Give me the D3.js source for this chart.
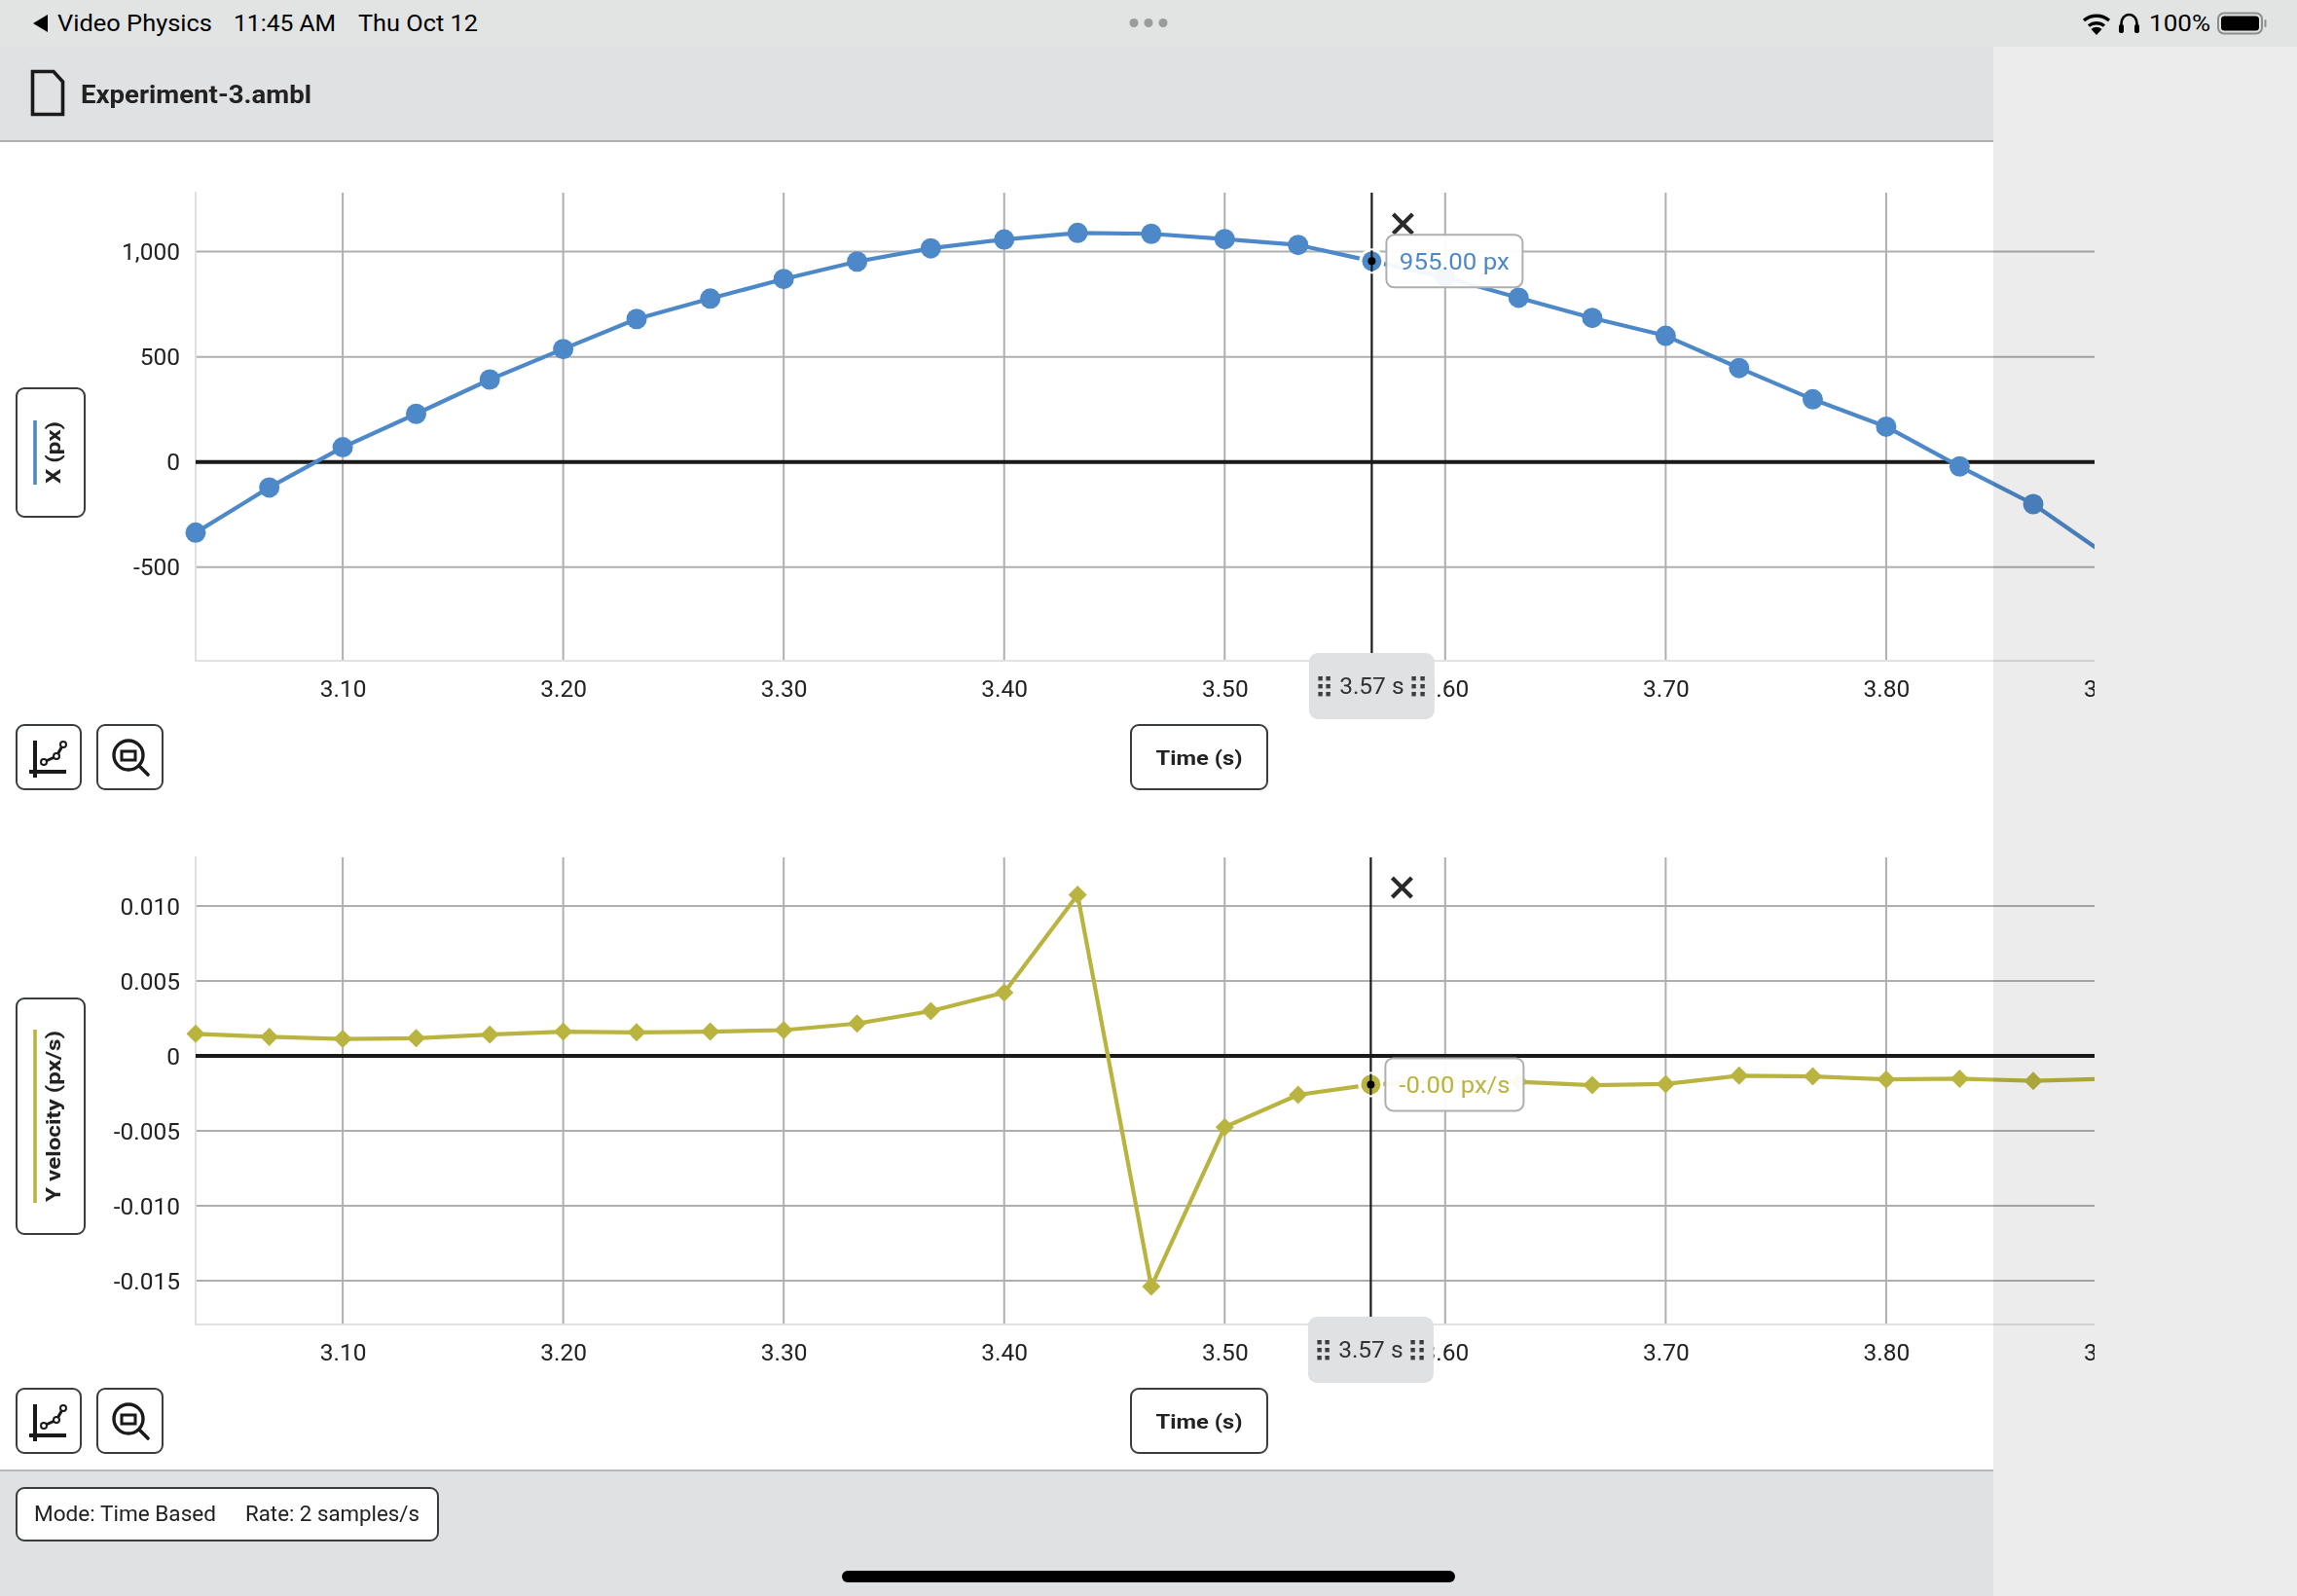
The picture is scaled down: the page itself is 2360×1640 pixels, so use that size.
<!DOCTYPE html>
<html>
<head>
<meta charset="utf-8">
<script src="https://cdn.jsdelivr.net/npm/d3@7"></script>
<style>
  html, body { margin: 0; padding: 0; background: #fff; }
  svg { display: block; }
  text { font-family: Roboto, sans-serif; fill: #222; }
</style>
</head>
<body>
<svg id="page" width="2360" height="1640"></svg>
<script>
// sample times (s), 30 samples/s
var TIMES = [3.0333, 3.0667, 3.1, 3.1333, 3.1667, 3.2, 3.2333, 3.2667, 3.3, 3.3333, 3.3667, 3.4, 3.4333,
             3.4667, 3.5, 3.5333, 3.5667, 3.6, 3.6333, 3.6667, 3.7, 3.7333, 3.7667, 3.8, 3.8333, 3.8667, 3.9];
var X_PX = [-336, -121, 70, 229, 392, 537, 680, 777, 870, 953, 1016, 1058, 1089,
            1085, 1060, 1032, 955, 878, 781, 685, 600, 447, 298, 168, -21, -200, -443];
var Y_VEL = [0.00147, 0.00127, 0.00113, 0.00118, 0.00142, 0.00162, 0.00157, 0.00162, 0.00172, 0.00216, 0.00299, 0.00422, 0.01074,
             -0.01539, -0.00475, -0.0026, -0.00191, -0.0017, -0.00173, -0.00195, -0.00188, -0.00132, -0.00137, -0.00157, -0.00152, -0.00167, -0.00152];

var TIME_TICKS = [3.1, 3.2, 3.3, 3.4, 3.5, 3.6, 3.7, 3.8, 3.9];
var X_TICKS = [-500, 0, 500, 1000];
var VEL_TICKS = [-0.015, -0.01, -0.005, 0, 0.005, 0.01];
var CURSOR_INDEX = 16;
var CURSOR_LABEL = '3.57 s';

var BLUE = '#4d88c8';
var OLIVE = '#b9b440';
var GRID = '#aeb0b0';
var INK = '#1a1a1a';
var BOX = '#3a3d3d';
var CHROME = '#e0e1e3';

var LEFT = 201, RIGHT = 2152;
var FONT = 24.5;

var svg = d3.select('#page');

var xScale = d3.scaleLinear().domain([3.0333, 3.8945]).range([LEFT, RIGHT]);

function noMinus(s) { return s.replace('\u2212', '-'); }

// keeps the sign when the value rounds to zero, as the app does
function signed(v) { return (v < 0 ? '-' : '') + d3.format('.2f')(Math.abs(v)); }

function box(g, x, y, w, h, fill) {
  return g.append('rect')
    .attr('x', x).attr('y', y).attr('width', w).attr('height', h)
    .attr('rx', 8).attr('fill', fill || '#fff')
    .attr('stroke', BOX).attr('stroke-width', 2);
}

function fitText(sel, width) {
  sel.attr('textLength', width).attr('lengthAdjust', 'spacingAndGlyphs');
  return sel;
}

// one chart panel, opts holds the pixel frame and the series
function drawPanel(opts) {
  var g = svg.append('g');
  var yScale = d3.scaleLinear().domain(opts.domain).range([opts.bottom, opts.top]);
  var clipId = 'clip' + opts.id;

  svg.append('defs').append('clipPath').attr('id', clipId)
    .append('rect').attr('x', 150).attr('y', 0).attr('width', RIGHT - 150).attr('height', 1640);

  // grid
  g.selectAll('.vgrid').data(TIME_TICKS.filter(function(d) { return xScale(d) < RIGHT; })).enter()
    .append('line')
    .attr('x1', xScale).attr('x2', xScale)
    .attr('y1', opts.top + 1).attr('y2', opts.bottom)
    .attr('stroke', GRID).attr('stroke-width', 2);
  g.selectAll('.hgrid').data(opts.ticks.filter(function(d) { return d !== 0; })).enter()
    .append('line')
    .attr('x1', LEFT).attr('x2', RIGHT)
    .attr('y1', yScale).attr('y2', yScale)
    .attr('stroke', GRID).attr('stroke-width', 2);

  // axis edges
  g.append('line').attr('x1', LEFT).attr('x2', LEFT).attr('y1', opts.top).attr('y2', opts.bottom + 1)
    .attr('stroke', '#dfdfdf').attr('stroke-width', 2);
  g.append('line').attr('x1', LEFT).attr('x2', RIGHT).attr('y1', opts.bottom).attr('y2', opts.bottom)
    .attr('stroke', '#e2e2e2').attr('stroke-width', 2);

  // tick labels
  var yAxis = d3.axisLeft(yScale).tickValues(opts.ticks).tickSize(0).tickPadding(0).tickFormat(opts.format);
  var yG = g.append('g').attr('transform', 'translate(' + (LEFT - 16) + ',' + opts.yLabelShift + ')').call(yAxis);
  yG.select('.domain').remove();
  yG.selectAll('text').style('font-size', FONT + 'px').style('fill', '#222');

  var xAxis = d3.axisBottom(xScale).tickValues(TIME_TICKS).tickSize(0).tickPadding(0).tickFormat(d3.format('.2f'));
  var xG = g.append('g').attr('clip-path', 'url(#' + clipId + ')')
    .append('g').attr('transform', 'translate(0,' + (opts.bottom + 28) + ')').call(xAxis);
  xG.select('.domain').remove();
  xG.selectAll('text').attr('y', 0).attr('dy', '0.36em').style('font-size', FONT + 'px').style('fill', '#222');

  // zero line
  g.append('line').attr('x1', LEFT).attr('x2', RIGHT)
    .attr('y1', yScale(0)).attr('y2', yScale(0))
    .attr('stroke', INK).attr('stroke-width', 4);

  // series
  var pts = TIMES.map(function(t, i) { return { t: t, v: opts.values[i], i: i }; });
  var line = d3.line().x(function(d) { return xScale(d.t); }).y(function(d) { return yScale(d.v); });
  var plot = g.append('g').attr('clip-path', 'url(#' + clipId + ')');
  plot.append('path').datum(pts)
    .attr('d', line).attr('fill', 'none')
    .attr('stroke', opts.color).attr('stroke-width', 4.2).attr('stroke-linejoin', 'round');
  opts.marker(plot.selectAll('.pt').data(pts.filter(function(d) { return d.i !== CURSOR_INDEX && d.t < 3.89; })).enter(), yScale);

  // cursor
  var cur = pts[CURSOR_INDEX];
  var cx = xScale(cur.t) + opts.cursorShift, cy = yScale(cur.v);

  g.append('line').attr('x1', cx).attr('x2', cx).attr('y1', opts.top + 1).attr('y2', opts.bottom + 5)
    .attr('stroke', INK).attr('stroke-width', 2.2);
  g.append('circle').attr('cx', cx).attr('cy', cy).attr('r', 11.5)
    .attr('fill', opts.color).attr('stroke', '#fff').attr('stroke-width', 3);
  g.append('line').attr('x1', cx).attr('x2', cx).attr('y1', cy - 11).attr('y2', cy + 11)
    .attr('stroke', INK).attr('stroke-width', 2.2);
  g.append('circle').attr('cx', cx).attr('cy', cy).attr('r', 4).attr('fill', '#000');

  // close cross
  var mx = cx + 32, my = opts.crossY;
  g.append('path')
    .attr('d', 'M' + (mx - 10) + ',' + (my - 10) + 'L' + (mx + 10) + ',' + (my + 10) +
               'M' + (mx + 10) + ',' + (my - 10) + 'L' + (mx - 10) + ',' + (my + 10))
    .attr('stroke', '#2a2a2a').attr('stroke-width', 4.2).attr('fill', 'none');

  // value tooltip
  g.append('rect').attr('x', cx + 15).attr('y', cy + opts.tipTop).attr('width', opts.tipW).attr('height', 54)
    .attr('rx', 8).attr('fill', '#fff').attr('fill-opacity', 0.94)
    .attr('stroke', GRID).attr('stroke-width', 2);
  fitText(g.append('text').attr('x', cx + 15 + opts.tipW / 2).attr('y', cy + opts.tipTop + 27)
    .attr('text-anchor', 'middle').attr('dy', '0.36em')
    .style('font-size', FONT + 'px').style('fill', opts.color)
    .text(signed(cur.v) + ' ' + opts.unit), opts.tipTextW);

  // time chip
  var chipTop = opts.bottom - 8;
  g.append('rect').attr('x', cx - 64.5).attr('y', chipTop).attr('width', 129).attr('height', 68)
    .attr('rx', 9).attr('fill', CHROME);
  g.append('text').attr('x', cx).attr('y', chipTop + 33).attr('text-anchor', 'middle').attr('dy', '0.36em')
    .style('font-size', FONT + 'px').style('fill', '#333').text(CURSOR_LABEL);
  [-53, -45, 43, 52].forEach(function(dx) {
    [-8, 0, 8].forEach(function(dy) {
      g.append('rect').attr('x', cx + dx - 2).attr('y', chipTop + 34 + dy - 2)
        .attr('width', 4.4).attr('height', 4.4).attr('fill', '#3c3c3c');
    });
  });

  // y label box
  box(g, 17, opts.labelBox[0], 70, opts.labelBox[1] - opts.labelBox[0]);
  g.append('line').attr('x1', 36).attr('x2', 36)
    .attr('y1', opts.labelLine[0]).attr('y2', opts.labelLine[1])
    .attr('stroke', opts.color).attr('stroke-width', 3.6);
  fitText(g.append('text').attr('transform', 'translate(54,' + (opts.labelLine[0] + opts.labelLine[1]) / 2 + ') rotate(-90)')
    .attr('text-anchor', 'middle').attr('dy', '0.36em')
    .style('font-size', '21px').style('font-weight', 700).text(opts.label), opts.labelW);

  // time axis button
  box(g, 1162, opts.btnY, 140, 66);
  fitText(g.append('text').attr('x', 1232).attr('y', opts.btnY + 33).attr('text-anchor', 'middle').attr('dy', '0.36em')
    .style('font-size', '21px').style('font-weight', 700).text('Time (s)'), 89);

  // graph and zoom buttons
  box(g, 17, opts.btnY, 66, 66);
  box(g, 100, opts.btnY, 67, 66);
  var b = g.append('g').attr('transform', 'translate(0,' + (opts.btnY - 744) + ')');
  b.append('path').attr('d', 'M36,760V798M30,792H68').attr('stroke', INK).attr('stroke-width', 4).attr('fill', 'none');
  b.append('path').attr('d', 'M45,782L58,776L65,764').attr('stroke', INK).attr('stroke-width', 3).attr('fill', 'none');
  [[45, 782], [58, 776], [65, 764]].forEach(function(p) {
    b.append('circle').attr('cx', p[0]).attr('cy', p[1]).attr('r', 3).attr('fill', '#fff').attr('stroke', INK).attr('stroke-width', 2);
  });
  b.append('circle').attr('cx', 132).attr('cy', 775).attr('r', 15).attr('fill', 'none').attr('stroke', INK).attr('stroke-width', 3.4);
  b.append('path').attr('d', 'M143,786L152,795').attr('stroke', INK).attr('stroke-width', 3.6).attr('stroke-linecap', 'round');
  b.append('rect').attr('x', 125).attr('y', 771).attr('width', 14).attr('height', 9).attr('fill', 'none').attr('stroke', INK).attr('stroke-width', 3);
}

function chrome() {
  svg.append('rect').attr('x', 0).attr('y', 48).attr('width', 2360).attr('height', 1592).attr('fill', '#fff');
  svg.append('rect').attr('x', 0).attr('y', 48).attr('width', 2048).attr('height', 97).attr('fill', CHROME);
  svg.append('line').attr('x1', 0).attr('x2', 2048).attr('y1', 145).attr('y2', 145).attr('stroke', GRID).attr('stroke-width', 2);
  svg.append('path').attr('d', 'M33.5,73.5H55L64.5,84V117.5H33.5Z').attr('fill', 'none').attr('stroke', INK).attr('stroke-width', 3.6);
  fitText(svg.append('text').attr('x', 83).attr('y', 97).attr('dy', '0.36em')
    .style('font-size', '25px').style('font-weight', 700).text('Experiment-3.ambl'), 237);
  // footer
  svg.append('rect').attr('x', 0).attr('y', 1511).attr('width', 2048).attr('height', 129).attr('fill', CHROME);
  svg.append('line').attr('x1', 0).attr('x2', 2048).attr('y1', 1511).attr('y2', 1511).attr('stroke', '#b8b9ba').attr('stroke-width', 2);
  box(svg, 17, 1529, 433, 54);
  fitText(svg.append('text').attr('x', 35).attr('y', 1555).attr('dy', '0.36em').style('font-size', '22px').text('Mode: Time Based'), 187);
  fitText(svg.append('text').attr('x', 252).attr('y', 1555).attr('dy', '0.36em').style('font-size', '22px').text('Rate: 2 samples/s'), 179);
}

function statusBar() {
  svg.append('rect').attr('x', 0).attr('y', 0).attr('width', 2360).attr('height', 48).attr('fill', '#e2e4e4');
  svg.append('path').attr('d', 'M34,24L49,15V33Z').attr('fill', '#000');
  [['Video Physics', 59, 159], ['11:45 AM', 240, 105], ['Thu Oct 12', 368, 123]].forEach(function(t) {
    fitText(svg.append('text').attr('x', t[1]).attr('y', 23.5).attr('dy', '0.36em')
      .style('font-size', '24px').style('fill', '#000').text(t[0]), t[2]);
  });
  [1165, 1180, 1195].forEach(function(x) {
    svg.append('circle').attr('cx', x).attr('cy', 23.5).attr('r', 4.5).attr('fill', '#9a9b9b');
  });
  // wifi
  svg.append('path').attr('d', 'M2141,21A20,20 0 0 1 2167,21M2146,26.5A13,13 0 0 1 2162,26.5')
    .attr('fill', 'none').attr('stroke', '#000').attr('stroke-width', 3.4);
  svg.append('path').attr('d', 'M2148.5,30A8,8 0 0 1 2159.5,30L2154,36Z').attr('fill', '#000');
  // headphones
  svg.append('path').attr('d', 'M2179.5,31V24A8,9 0 0 1 2195.5,24V31').attr('fill', 'none').attr('stroke', '#000').attr('stroke-width', 2.6);
  svg.append('rect').attr('x', 2177).attr('y', 25).attr('width', 5).attr('height', 9).attr('rx', 2).attr('fill', '#000');
  svg.append('rect').attr('x', 2193).attr('y', 25).attr('width', 5).attr('height', 9).attr('rx', 2).attr('fill', '#000');
  fitText(svg.append('text').attr('x', 2208).attr('y', 23.5).attr('dy', '0.36em')
    .style('font-size', '24px').style('fill', '#000').text('100%'), 63);
  // battery
  svg.append('rect').attr('x', 2279).attr('y', 13.5).attr('width', 45).attr('height', 21).attr('rx', 6)
    .attr('fill', 'none').attr('stroke', '#8c8d8d').attr('stroke-width', 2);
  svg.append('rect').attr('x', 2282).attr('y', 16.5).attr('width', 39).attr('height', 15).attr('rx', 3.5).attr('fill', '#000');
  svg.append('rect').attr('x', 2326.5).attr('y', 20).attr('width', 2).attr('height', 8).attr('rx', 1).attr('fill', '#8c8d8d');
}

chrome();

drawPanel({
  id: 1, top: 197, bottom: 679, domain: [-945, 1285],
  values: X_PX, ticks: X_TICKS, color: BLUE, unit: 'px', yLabelShift: 0,
  format: function(d) { return noMinus(d3.format(',')(d)); },
  marker: function(sel, yScale) {
    sel.append('circle')
      .attr('cx', function(d) { return xScale(d.t); })
      .attr('cy', function(d) { return yScale(d.v); })
      .attr('r', 10.5).attr('fill', BLUE);
  },
  cursorShift: 0, crossY: 230, tipTop: -27, tipW: 140, tipTextW: 113,
  label: 'X (px)', labelBox: [399, 531], labelLine: [432, 498], labelW: 64, btnY: 745
});

drawPanel({
  id: 2, top: 880, bottom: 1361, domain: [-0.01792, 0.01331],
  values: Y_VEL, ticks: VEL_TICKS, color: OLIVE, unit: 'px/s', yLabelShift: 0.5,
  format: function(d) { return d === 0 ? '0' : noMinus(d3.format('.3f')(d)); },
  marker: function(sel, yScale) {
    sel.append('path')
      .attr('d', d3.symbol(d3.symbolSquare, 180))
      .attr('transform', function(d) { return 'translate(' + xScale(d.t) + ',' + yScale(d.v) + ') rotate(45)'; })
      .attr('fill', OLIVE);
  },
  cursorShift: -1, crossY: 912, tipTop: -27, tipW: 142, tipTextW: 114,
  label: 'Y velocity (px/s)', labelBox: [1026, 1268], labelLine: [1058, 1236], labelW: 176, btnY: 1427
});

// side panel tints whatever lies under it
svg.append('rect').attr('x', 2048).attr('y', 48).attr('width', 312).attr('height', 1592)
  .attr('fill', '#ececec').style('mix-blend-mode', 'multiply');

statusBar();

// home indicator
svg.append('rect').attr('x', 865).attr('y', 1614).attr('width', 630).attr('height', 12).attr('rx', 6).attr('fill', '#000');
</script>
</body>
</html>
